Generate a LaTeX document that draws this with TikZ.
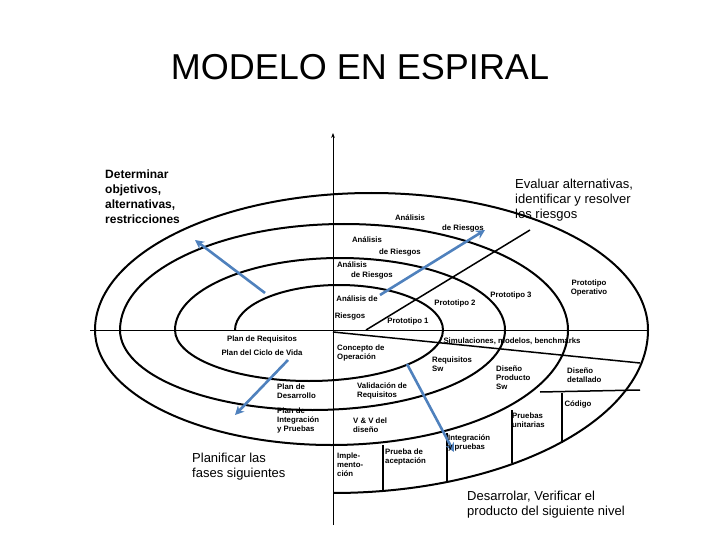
\documentclass[tikz,border=0pt]{standalone}
\usepackage{fontspec}
\setmainfont{Liberation Sans}
\usetikzlibrary{arrows.meta}
\begin{document}
\begin{tikzpicture}[x=1pt,y=-1pt,
  sp/.style={line width=2pt},
  sep/.style={line width=1.5pt},
  blu/.style={line width=2.6pt,draw={rgb,255:red,79;green,129;blue,189},-{Stealth[length=9pt,width=9pt]}},
  sm/.style={font=\fontsize{7.8}{9}\selectfont\bfseries,inner sep=0pt,align=left},
  q/.style={font=\fontsize{13}{15}\selectfont,inner sep=0pt,align=left,anchor=north west}]
\useasboundingbox (0,0) rectangle (720,540);
\node[font=\fontsize{36}{40}\selectfont,inner sep=0pt] (title) at (360,67) {MODELO EN ESPIRAL};
% axes
\draw[line width=1pt,-{Stealth[length=5pt]}] (333,525) -- (333,133);
\draw[line width=1pt] (90,330) -- (648,330);
% upper arcs
\draw[sp] (235,330) arc[start angle=180,end angle=0,x radius=104pt,y radius=45pt];
\draw[sp] (175,330) arc[start angle=180,end angle=0,x radius=165pt,y radius=72pt];
\draw[sp] (120,330) arc[start angle=180,end angle=0,x radius=224pt,y radius=106pt];
\draw[sp] (95,330) arc[start angle=180,end angle=0,x radius=276.5pt,y radius=137pt];
% lower arcs
\draw[sp] (443,330) arc[start angle=0,end angle=-180,x radius=134pt,y radius=51pt];
\draw[sp] (505,330) arc[start angle=0,end angle=-180,x radius=192.5pt,y radius=80pt];
\draw[sp] (568,330) arc[start angle=0,end angle=-180,x radius=236.5pt,y radius=115pt];
\draw[sp] (648,330) arc[start angle=0,end angle=-90,x radius=315pt,y radius=163pt];
% separators
\draw[sep] (366,330) -- (530,230);
\draw[sep] (333,332) -- (640,363);
\draw[sep] (540,392) -- (640,390);
\draw[sep] (562,393) -- (562,443);
\draw[sep] (512,410) -- (512,463);
\draw[sep] (447,433) -- (447,483);
\draw[sep] (383,445) -- (383,490);
% blue arrows
\coordinate (a1s) at (265,293); \coordinate (a1e) at (195,240);
\coordinate (a2s) at (380,295); \coordinate (a2e) at (485,230);
\coordinate (a3s) at (288,360); \coordinate (a3e) at (235,415);
\coordinate (a4s) at (407,364); \coordinate (a4e) at (454,452);
\draw[blu] (a1s) -- (a1e);
\draw[blu] (a2s) -- (a2e);
\draw[blu] (a3s) -- (a3e);
\draw[blu] (a4s) -- (a4e);
% quadrant labels
\node[q,font=\fontsize{12}{15}\selectfont\bfseries] (q1) at (105,170) {Determinar\\objetivos,\\alternativas,\\restricciones};
\node[q] (q2) at (515,179) {Evaluar alternativas,\\identificar y resolver\\los riesgos};
\node[q] (q3) at (192,453) {Planificar las\\fases siguientes};
\node[q] (q4) at (467,491) {Desarrolar, Verificar el\\producto del siguiente nivel};
% small labels
\node[sm] (l1) at (410,218) {Análisis};
\node[sm] (l2) at (463,229) {de Riesgos};
\node[sm] (l3) at (367,240) {Análisis};
\node[sm] (l4) at (400,253) {de Riesgos};
\node[sm] (l5) at (352,265) {Análisis};
\node[sm] (l6) at (372,276) {de Riesgos};
\node[sm] (l7) at (357,299) {Análisis de};
\node[sm] (l8) at (350,316) {Riesgos};
\node[sm] (p1) at (408,321) {Prototipo 1};
\node[sm] (p2) at (455,303) {Prototipo 2};
\node[sm] (p3) at (511,295) {Prototipo 3};
\node[sm,align=center] (p4) at (589,288) {Prototipo\\Operativo};
\node[sm] (sim) at (512,341) {Simulaciones, modelos, benchmarks};
\node[sm,anchor=west] (c1) at (337,353) {Concepto de\\Operación};
\node[sm,anchor=west] (c2) at (432,364) {Requisitos\\Sw};
\node[sm,anchor=west] (c3) at (496,378) {Diseño\\Producto\\Sw};
\node[sm,anchor=west] (c4) at (567,375) {Diseño\\detallado};
\node[sm] (c5) at (578,404) {Código};
\node[sm,anchor=west] (c6) at (357,391) {Validación de\\Requisitos};
\node[sm,anchor=west] (c7) at (512,420) {Pruebas\\unitarias};
\node[sm,anchor=west] (c8) at (353,425) {V \& V del\\diseño};
\node[sm,anchor=west] (c9) at (448,443) {Integración\\y pruebas};
\node[sm,anchor=west] (c10) at (337,465) {Imple-\\mento-\\ción};
\node[sm,anchor=west] (c11) at (385,457) {Prueba de\\aceptación};
\node[sm] (pl1) at (262,339) {Plan de Requisitos};
\node[sm] (pl2) at (262,353) {Plan del Ciclo de Vida};
\node[sm,anchor=west] (pl3) at (277,391) {Plan de\\Desarrollo};
\node[sm,anchor=west] (pl4) at (277,420) {Plan de\\Integración\\y Pruebas};
\end{tikzpicture}
\end{document}
